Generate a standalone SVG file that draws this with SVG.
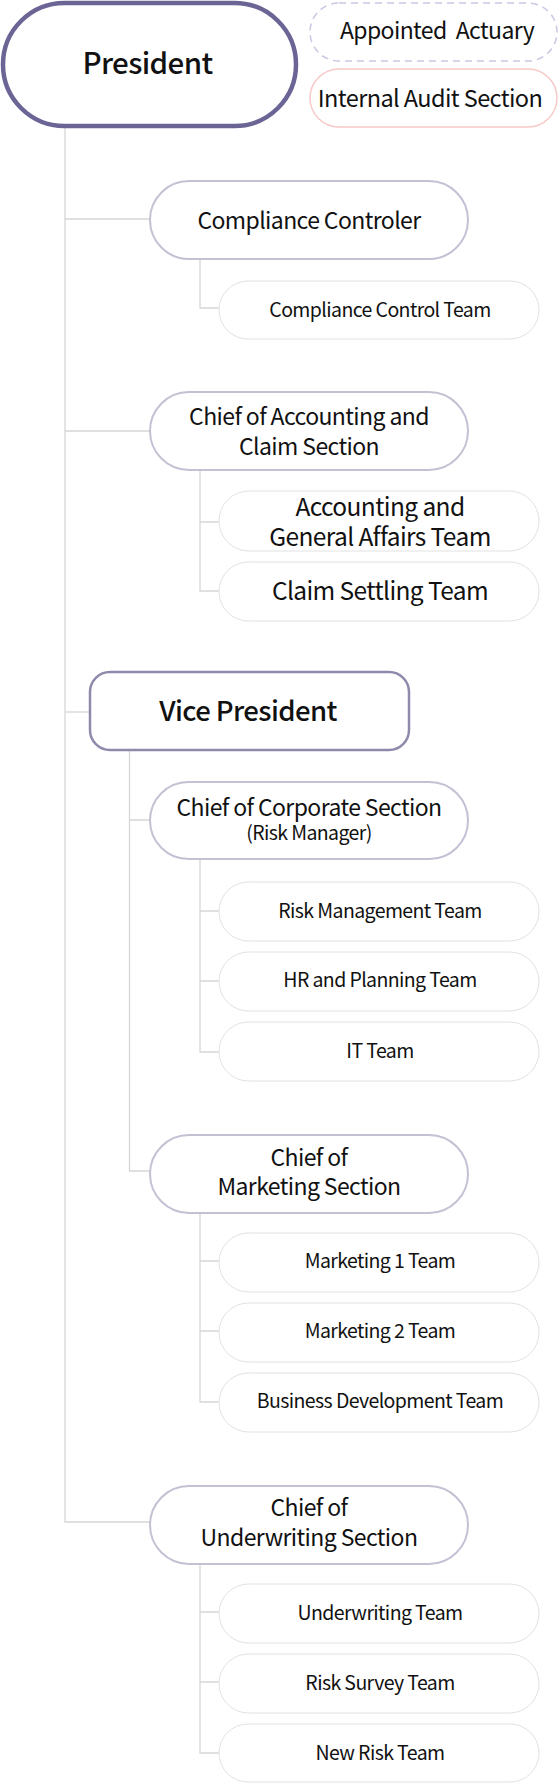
<svg xmlns="http://www.w3.org/2000/svg" width="559" height="1783" viewBox="0 0 559 1783">
<style>
text{font-family:"Noto Sans CJK KR","Noto Sans",sans-serif;fill:#111;text-anchor:middle;letter-spacing:-0.6px}
.chief rect{fill:#fff;stroke:#c3c1d3;stroke-width:2}
.team rect{fill:#fff;stroke:#e2e2e2;stroke-width:1}
.chief text{font-size:23px}
.team text{font-size:19.5px}
.team text.big{font-size:24.5px}
.conn{fill:none;stroke:#d6d6da;stroke-width:1.3}
</style>
<rect width="559" height="1783" fill="#fff"/>
<g id="connectors" class="conn">
<path d="M65 127V1522H150"/>
<path d="M65 219H150"/>
<path d="M65 431H150"/>
<path d="M65 712H90"/>
<path d="M200 259V308H219"/>
<path d="M200 470V591H219M200 522H219"/>
<path d="M129.5 750V1171H150M129.5 820H150"/>
<path d="M200 859V1052H219M200 911H219M200 981H219"/>
<path d="M200 1213V1402H219M200 1261H219M200 1331H219"/>
<path d="M200 1564V1753H219M200 1612H219M200 1682H219"/>
</g>
<g id="president">
<rect x="3" y="3" width="293" height="123" rx="61.5" fill="#fff" stroke="#6b6596" stroke-width="4.5"/>
<text x="147.5" y="74" style="font-size:29.5px;font-weight:500">President</text>
</g>
<g id="actuary">
<rect x="310" y="3" width="247" height="58" rx="29" fill="#fff" stroke="#c9c7e2" stroke-width="1.5" stroke-dasharray="7 5"/>
<text x="437" y="39" style="font-size:23px" xml:space="preserve">Appointed  Actuary</text>
</g>
<g id="audit">
<rect x="310" y="69" width="247" height="58" rx="29" fill="#fff" stroke="#f7c9c9" stroke-width="1.5"/>
<text x="430" y="107" style="font-size:23.5px">Internal Audit Section</text>
</g>
<g id="compliance-controler" class="chief">
<rect x="150" y="181" width="318" height="78" rx="39"/>
<text x="309" y="229">Compliance Controler</text>
</g>
<g id="compliance-team" class="team">
<rect x="219" y="281" width="320" height="58" rx="29"/>
<text x="380" y="317">Compliance Control Team</text>
</g>
<g id="chief-accounting" class="chief">
<rect x="150" y="392" width="318" height="78" rx="39"/>
<text x="309" y="425">Chief of Accounting and</text>
<text x="309" y="455">Claim Section</text>
</g>
<g id="accounting-team" class="team">
<rect x="219" y="491" width="320" height="60" rx="30"/>
<text class="big" x="380" y="516">Accounting and</text>
<text class="big" x="380" y="546">General Affairs Team</text>
</g>
<g id="claim-team" class="team">
<rect x="219" y="562" width="320" height="59" rx="29.5"/>
<text class="big" x="380" y="600">Claim Settling Team</text>
</g>
<g id="vice-president">
<rect x="90" y="672" width="319" height="78" rx="20" fill="#fff" stroke="#8e8aab" stroke-width="2.5"/>
<text x="248" y="721" style="font-size:27.5px;font-weight:500">Vice President</text>
</g>
<g id="chief-corporate" class="chief">
<rect x="150" y="782" width="318" height="77" rx="38.5"/>
<text x="309" y="816">Chief of Corporate Section</text>
<text x="309" y="840" style="font-size:19.5px">(Risk Manager)</text>
</g>
<g id="risk-management-team" class="team">
<rect x="219" y="882" width="320" height="59" rx="29.5"/>
<text x="380" y="918">Risk Management Team</text>
</g>
<g id="hr-team" class="team">
<rect x="219" y="952" width="320" height="59" rx="29.5"/>
<text x="380" y="987">HR and Planning Team</text>
</g>
<g id="it-team" class="team">
<rect x="219" y="1022" width="320" height="59" rx="29.5"/>
<text x="380" y="1058">IT Team</text>
</g>
<g id="chief-marketing" class="chief">
<rect x="150" y="1135" width="318" height="78" rx="39"/>
<text x="309" y="1166">Chief of</text>
<text x="309" y="1195">Marketing Section</text>
</g>
<g id="marketing1-team" class="team">
<rect x="219" y="1233" width="320" height="59" rx="29.5"/>
<text x="380" y="1268">Marketing 1 Team</text>
</g>
<g id="marketing2-team" class="team">
<rect x="219" y="1303" width="320" height="59" rx="29.5"/>
<text x="380" y="1338">Marketing 2 Team</text>
</g>
<g id="bizdev-team" class="team">
<rect x="219" y="1373" width="320" height="59" rx="29.5"/>
<text x="380" y="1408">Business Development Team</text>
</g>
<g id="chief-underwriting" class="chief">
<rect x="150" y="1486" width="318" height="78" rx="39"/>
<text x="309" y="1516">Chief of</text>
<text x="309" y="1546">Underwriting Section</text>
</g>
<g id="underwriting-team" class="team">
<rect x="219" y="1584" width="320" height="59" rx="29.5"/>
<text x="380" y="1620">Underwriting Team</text>
</g>
<g id="risk-survey-team" class="team">
<rect x="219" y="1654" width="320" height="59" rx="29.5"/>
<text x="380" y="1690">Risk Survey Team</text>
</g>
<g id="new-risk-team" class="team">
<rect x="219" y="1724" width="320" height="58" rx="29"/>
<text x="380" y="1760">New Risk Team</text>
</g>
</svg>
